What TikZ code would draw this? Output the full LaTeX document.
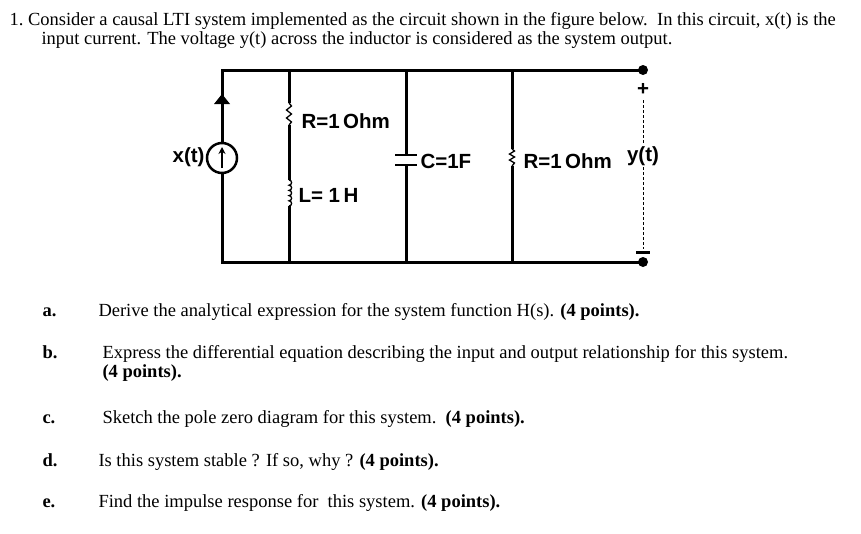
\documentclass[tikz,border=0pt]{standalone}
\usepackage{fontspec}
\usetikzlibrary{arrows.meta}
\setmainfont{Liberation Serif}
\newfontfamily\lab{Liberation Sans}
\begin{document}
\begin{tikzpicture}[x=1pt,y=-1pt,line width=3pt,
  txt/.style={anchor=base west,inner sep=0pt,font=\fontsize{18.5}{21}\selectfont},
  lbl/.style={inner sep=0pt,font=\lab\bfseries\fontsize{20.5}{23}\selectfont},
  zig/.style={line width=1.3pt}]
\useasboundingbox (0,0) rectangle (861,533);
% wires
\coordinate (tl) at (222,70); \coordinate (bl) at (222,262);
\coordinate (tr) at (643,70); \coordinate (br) at (643,262);
\draw (tr) -- (tl) -- (bl) -- (br);
\fill (tr) circle (5); \fill (br) circle (5);
% source
\node[draw,circle,minimum size=30pt,inner sep=0pt,fill=white,line width=2.5pt] (src) at (222,158) {};
\draw[line width=2pt,-{Stealth[length=7pt,width=7pt]}] (222,168) -- (222,147);
\fill (222,94) -- (214,104) -- (230,104) -- cycle;
\node[lbl,anchor=east] (xl) at (206,157) {x(t)};
% branch 1
\draw (289,70) -- (289,103);
\draw[zig] (289,103) -- (291.5,106) -- (286.5,110) -- (291.5,114) -- (286.5,118) -- (291.5,122) -- (289,125);
\draw (289,125) -- (289,180);
\draw[zig] (289,180) arc (-90:90:2.6) arc (-90:90:2.6) arc (-90:90:2.6) arc (-90:90:2.6) arc (-90:90:2.6);
\draw (289,206) -- (289,262);
\node[lbl,anchor=west] (r1) at (300,121) {R=1\,Ohm};
\node[lbl,anchor=west] (l1) at (297,195) {L= 1\,H};
% capacitor
\draw (406,70) -- (406,155) (406,165) -- (406,262);
\draw[line width=2.4pt] (395,155) -- (417,155) (395,165) -- (417,165);
\node[lbl,anchor=west] (c1) at (419,161) {C=1F};
% resistor 2
\draw (512,70) -- (512,149);
\draw[zig] (512,149) -- (514.5,151) -- (509.5,154) -- (514.5,157) -- (509.5,160) -- (514.5,163) -- (512,166);
\draw (512,166) -- (512,262);
\node[lbl,anchor=west] (r2) at (522,161) {R=1\,Ohm};
% output
\node[lbl] (pl) at (643,89) {+};
\node[lbl] (yl) at (643,156) {y(t)};
\draw[line width=3pt] (636,252) -- (650,252);
\draw[line width=0.8pt,densely dashed] (643,100) -- (yl.north) (yl.south) -- (643,249);
% text
\node[txt] at (8,25) {1.\ Consider a causal LTI system implemented as the circuit shown in the figure below.\ \ In this circuit, x(t) is the};
\node[txt] at (40,44) {input current. The voltage y(t) across the inductor is considered as the system output.};
\node[txt] at (41,316) {\textbf{a.}};
\node[txt] at (97,316) {Derive the analytical expression for the system function H(s). \textbf{(4 points).}};
\node[txt] at (41,358) {\textbf{b.}};
\node[txt] at (101,358) {Express the differential equation describing the input and output relationship for this system.};
\node[txt] at (101,377) {\textbf{(4 points).}};
\node[txt] at (41,423) {\textbf{c.}};
\node[txt] at (101,423) {Sketch the pole zero diagram for this system.\ \ \textbf{(4 points).}};
\node[txt] at (41,466) {\textbf{d.}};
\node[txt] at (97,466) {Is this system stable ? If so, why ? \textbf{(4 points).}};
\node[txt] at (41,507) {\textbf{e.}};
\node[txt] at (97,507) {Find the impulse response for\ \ this system. \textbf{(4 points).}};
\end{tikzpicture}
\end{document}
